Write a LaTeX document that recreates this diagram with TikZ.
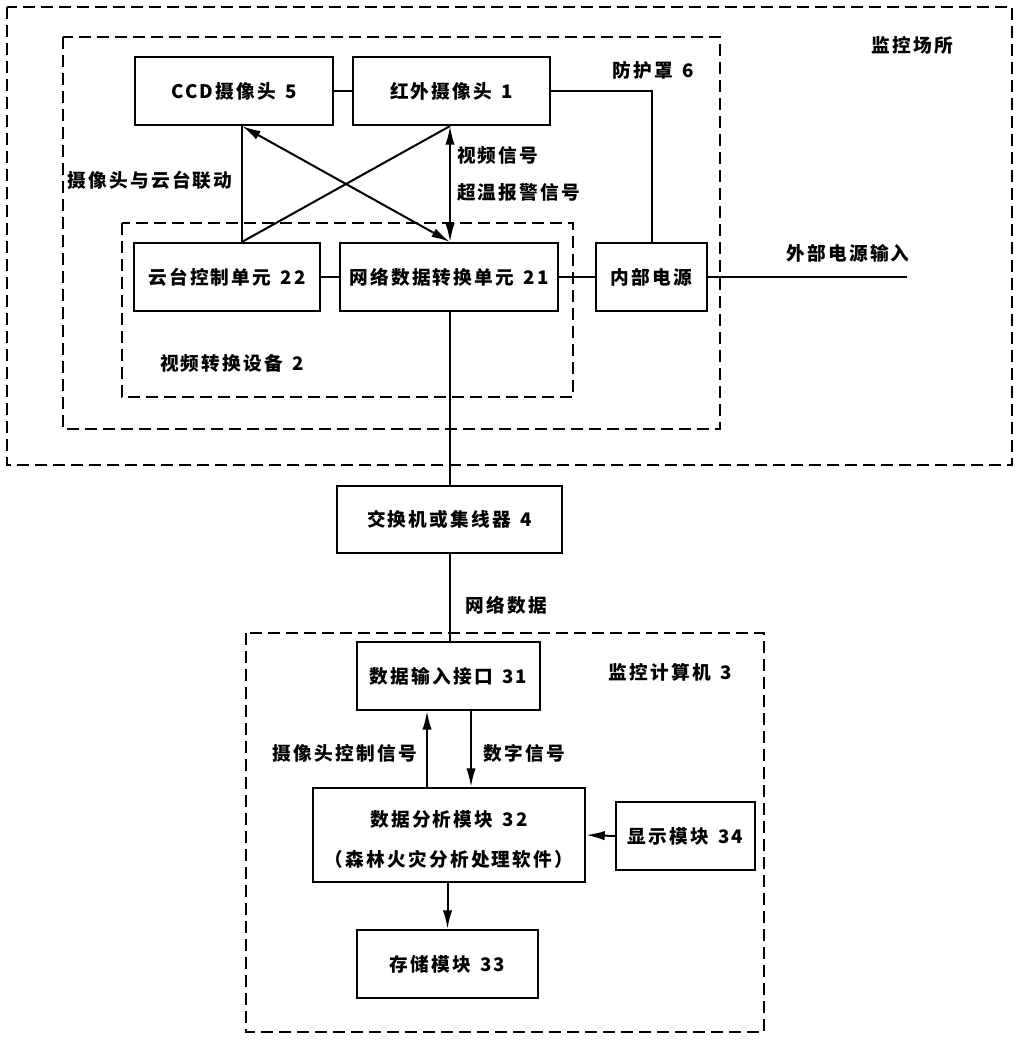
\documentclass[tikz,border=0pt]{standalone}
\usepackage{fontspec}
\setmainfont[LetterSpace=12]{Noto Sans CJK SC}
\usetikzlibrary{arrows.meta}

\begin{document}
\begin{tikzpicture}[
  x=0.75pt,
  y=-0.75pt,
  line width=1.5pt,
  >={Latex[length=14pt,width=7pt]},
  blk/.style={
    draw,
    line width=1.6pt,
    inner sep=0pt,
    align=center,
    font=\fontsize{14pt}{17pt}\selectfont\bfseries,
  },
  grp/.style={
    draw,
    line width=1.4pt,
    dash pattern=on 9pt off 4.5pt,
  },
  lbl/.style={
    inner sep=0pt,
    font=\fontsize{14pt}{17pt}\selectfont\bfseries,
  },
]
  \useasboundingbox (0,0) rectangle (1024,1041);
  % dashed enclosures
  \draw[grp] (7,7) rectangle (1012,465);
  \draw[grp] (63,37) rectangle (720,429);
  \draw[grp] (122,223) rectangle (573,397);
  \draw[grp] (246,633) rectangle (764,1032);
  % blocks, given by their corners
  \def\Blk#1#2#3#4#5#6{%
    \node[blk,
      minimum width={(#4-#2)*0.75pt},
      minimum height={(#5-#3)*0.75pt},
    ] (#1) at ({(#2+#4)/2},{(#3+#5)/2}) {#6};%
  }
  \Blk{ccd}{135}{57}{333}{125}{CCD摄像头\enspace 5}
  \Blk{ir}{353}{57}{550}{125}{红外摄像头\enspace 1}
  \Blk{yt}{134}{243}{320}{311}{云台控制单元\enspace 22}
  \Blk{net}{340}{243}{558}{311}{网络数据转换单元\enspace 21}
  \Blk{pw}{596}{243}{707}{311}{内部电源}
  \Blk{sw}{337}{486}{562}{553}{交换机或集线器\enspace 4}
  \Blk{in}{357}{642}{540}{710}{数据输入接口\enspace 31}
  \Blk{an}{313}{788}{585}{882}{\rule{0pt}{18pt}数据分析模块\enspace 32\\[13pt]（森林火灾分析处理软件）}
  \Blk{disp}{616}{802}{755}{870}{显示模块\enspace 34}
  \Blk{st}{357}{930}{538}{998}{存储模块\enspace 33}
  % columns and free ends
  \coordinate (cx) at (242,0);
  \coordinate (vx) at (450,0);
  \coordinate (ux) at (427,0);
  \coordinate (dx) at (471,0);
  \coordinate (ext) at (907,277);
  % connectors
  \draw (ccd) -- (ir);
  \draw (ir.east) -| (pw.north);
  \draw (yt) -- (net);
  \draw (net) -- (pw);
  \draw (pw.east) -- (ext);
  \draw (cx |- ccd.south) -- (cx |- yt.north);
  \draw (vx |- ir.south) -- (cx |- yt.north);
  \draw[<->] (cx |- ccd.south) -- (vx |- net.north);
  \draw[<->] (vx |- ir.south) -- (vx |- net.north);
  \draw (vx |- net.south) -- (vx |- sw.north);
  \draw (vx |- sw.south) -- (vx |- in.north);
  \draw[->] (ux |- an.north) -- (ux |- in.south);
  \draw[->] (dx |- in.south) -- (dx |- an.north);
  \draw[->] (an.south -| st.north) -- (st.north);
  \draw[->] (disp.west) -- (an.east);
  % labels
  \node[lbl] (tSite) at (912,45) {监控场所};
  \node[lbl] (tHood) at (653,70) {防护罩\enspace 6};
  \node[lbl, anchor=west] (tVid) at (456,155) {视频信号};
  \node[lbl, anchor=west] (tAlm) at (456,192) {超温报警信号};
  \node[lbl] (tLink) at (150,180) {摄像头与云台联动};
  \node[lbl] (tConv) at (232,363) {视频转换设备\enspace 2};
  \node[lbl] (tExt) at (848,253) {外部电源输入};
  \node[lbl] (tData) at (506,605) {网络数据};
  \node[lbl] (tPc) at (670,672) {监控计算机\enspace 3};
  \node[lbl] (tCtl) at (345,753) {摄像头控制信号};
  \node[lbl] (tDig) at (524,753) {数字信号};
\end{tikzpicture}
\end{document}
